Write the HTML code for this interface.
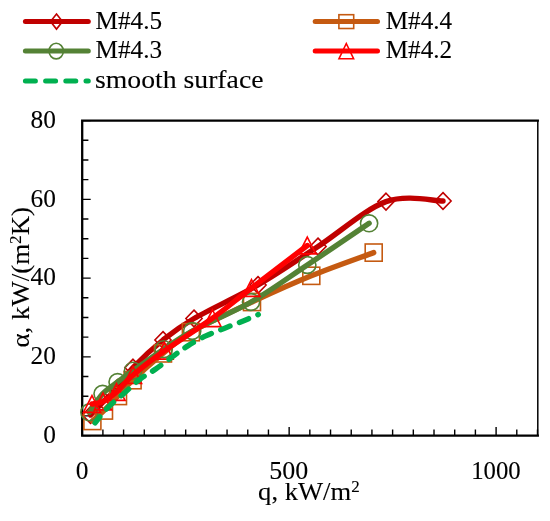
<!DOCTYPE html>
<html><head><meta charset="utf-8"><title>chart</title>
<style>html,body{margin:0;padding:0;background:#fff}svg{display:block}</style></head>
<body>
<svg width="550" height="521" viewBox="0 0 550 521" style="display:block">
<rect width="550" height="521" fill="#fff"/>
<path d="M82.2 435.60 h8.5 M82.2 415.91 h6.2 M82.2 396.23 h6.2 M82.2 376.54 h6.2 M82.2 356.85 h8.5 M82.2 337.16 h6.2 M82.2 317.48 h6.2 M82.2 297.79 h6.2 M82.2 278.10 h8.5 M82.2 258.41 h6.2 M82.2 238.73 h6.2 M82.2 219.04 h6.2 M82.2 199.35 h8.5 M82.2 179.66 h6.2 M82.2 159.98 h6.2 M82.2 140.29 h6.2 M82.2 120.60 h8.5 M82.20 435.6 v-8.5 M102.90 435.6 v-6.2 M123.59 435.6 v-6.2 M144.28 435.6 v-6.2 M164.98 435.6 v-6.2 M185.68 435.6 v-6.2 M206.37 435.6 v-6.2 M227.06 435.6 v-6.2 M247.76 435.6 v-6.2 M268.45 435.6 v-6.2 M289.15 435.6 v-8.5 M309.84 435.6 v-6.2 M330.54 435.6 v-6.2 M351.23 435.6 v-6.2 M371.93 435.6 v-6.2 M392.62 435.6 v-6.2 M413.32 435.6 v-6.2 M434.01 435.6 v-6.2 M454.71 435.6 v-6.2 M475.40 435.6 v-6.2 M496.10 435.6 v-8.5 M516.79 435.6 v-6.2 M537.49 435.6 v-6.2" stroke="#000" stroke-width="1.4" fill="none"/>
<path d="M82.2 120.6 H537.8 M82.2 120.6 V435.6 M82.2 435.6 H537.8" stroke="#000" stroke-width="2.3" fill="none" stroke-linecap="square"/>
<path d="M537.8 120.6 V435.6" stroke="#000" stroke-width="1.5" fill="none"/>
<path d="M90.5 415.0 C92.8 412.7 99.5 405.5 104.0 401.0 C108.5 396.5 112.7 393.6 117.5 388.0 C122.3 382.4 125.4 375.6 133.0 367.6 C140.6 359.6 152.8 348.2 163.0 340.0 C173.2 331.8 178.2 327.7 194.0 318.5 C209.8 309.3 237.3 297.0 258.0 285.0 C278.7 273.0 296.7 260.4 318.0 246.5 C339.3 232.6 365.2 209.2 386.0 201.6 C406.8 194.0 433.5 201.1 443.0 201.0" fill="none" stroke="#C00000" stroke-width="5.4" stroke-linecap="round" stroke-linejoin="round"/>
<path d="M90.5 406.6 L98.6 415.0 L90.5 423.4 L82.4 415.0Z" fill="none" stroke="#C00000" stroke-width="1.6"/>
<path d="M104.0 392.6 L112.1 401.0 L104.0 409.4 L95.9 401.0Z" fill="none" stroke="#C00000" stroke-width="1.6"/>
<path d="M117.5 379.6 L125.6 388.0 L117.5 396.4 L109.4 388.0Z" fill="none" stroke="#C00000" stroke-width="1.6"/>
<path d="M133.0 359.2 L141.1 367.6 L133.0 376.0 L124.9 367.6Z" fill="none" stroke="#C00000" stroke-width="1.6"/>
<path d="M163.0 331.6 L171.1 340.0 L163.0 348.4 L154.9 340.0Z" fill="none" stroke="#C00000" stroke-width="1.6"/>
<path d="M194.0 310.1 L202.1 318.5 L194.0 326.9 L185.9 318.5Z" fill="none" stroke="#C00000" stroke-width="1.6"/>
<path d="M258.0 276.6 L266.1 285.0 L258.0 293.4 L249.9 285.0Z" fill="none" stroke="#C00000" stroke-width="1.6"/>
<path d="M318.0 238.1 L326.1 246.5 L318.0 254.9 L309.9 246.5Z" fill="none" stroke="#C00000" stroke-width="1.6"/>
<path d="M386.0 193.2 L394.1 201.6 L386.0 210.0 L377.9 201.6Z" fill="none" stroke="#C00000" stroke-width="1.6"/>
<path d="M443.0 192.6 L451.1 201.0 L443.0 209.4 L434.9 201.0Z" fill="none" stroke="#C00000" stroke-width="1.6"/>
<path d="M92.4 421.0 C94.3 419.2 99.7 414.7 104.0 410.5 C108.3 406.3 113.2 401.1 118.0 396.0 C122.8 390.9 125.1 387.3 132.6 380.2 C140.1 373.1 153.3 361.4 163.0 353.4 C172.7 345.4 176.1 340.8 190.9 332.2 C205.7 323.6 231.9 311.4 252.0 302.0 C272.1 292.6 291.0 284.0 311.3 275.8 C331.6 267.6 363.3 256.5 373.7 252.6" fill="none" stroke="#C55A11" stroke-width="5.4" stroke-linecap="round" stroke-linejoin="round"/>
<rect x="83.9" y="412.4" width="17.0" height="17.2" fill="none" stroke="#C55A11" stroke-width="1.6"/>
<rect x="95.5" y="401.9" width="17.0" height="17.2" fill="none" stroke="#C55A11" stroke-width="1.6"/>
<rect x="109.5" y="387.4" width="17.0" height="17.2" fill="none" stroke="#C55A11" stroke-width="1.6"/>
<rect x="124.1" y="371.6" width="17.0" height="17.2" fill="none" stroke="#C55A11" stroke-width="1.6"/>
<rect x="154.5" y="344.8" width="17.0" height="17.2" fill="none" stroke="#C55A11" stroke-width="1.6"/>
<rect x="182.4" y="323.6" width="17.0" height="17.2" fill="none" stroke="#C55A11" stroke-width="1.6"/>
<rect x="243.5" y="293.4" width="17.0" height="17.2" fill="none" stroke="#C55A11" stroke-width="1.6"/>
<rect x="302.8" y="267.2" width="17.0" height="17.2" fill="none" stroke="#C55A11" stroke-width="1.6"/>
<rect x="365.2" y="244.0" width="17.0" height="17.2" fill="none" stroke="#C55A11" stroke-width="1.6"/>
<path d="M89.4 412.3 C91.6 409.2 97.9 398.9 102.6 393.8 C107.3 388.8 112.5 385.9 117.6 382.0 C122.7 378.1 125.3 376.2 133.0 370.7 C140.7 365.2 153.8 355.8 163.7 349.2 C173.6 342.6 177.6 338.9 192.2 331.0 C206.8 323.1 231.8 313.0 251.0 302.0 C270.2 291.0 287.6 278.1 307.3 265.0 C327.0 251.9 358.8 230.2 369.1 223.3" fill="none" stroke="#548235" stroke-width="5.4" stroke-linecap="round" stroke-linejoin="round"/>
<ellipse cx="89.4" cy="412.3" rx="8.6" ry="8.4" fill="none" stroke="#548235" stroke-width="1.6"/>
<ellipse cx="102.6" cy="393.8" rx="8.6" ry="8.4" fill="none" stroke="#548235" stroke-width="1.6"/>
<ellipse cx="117.6" cy="382.0" rx="8.6" ry="8.4" fill="none" stroke="#548235" stroke-width="1.6"/>
<ellipse cx="133.0" cy="370.7" rx="8.6" ry="8.4" fill="none" stroke="#548235" stroke-width="1.6"/>
<ellipse cx="163.7" cy="349.2" rx="8.6" ry="8.4" fill="none" stroke="#548235" stroke-width="1.6"/>
<ellipse cx="192.2" cy="331.0" rx="8.6" ry="8.4" fill="none" stroke="#548235" stroke-width="1.6"/>
<ellipse cx="251.0" cy="302.0" rx="8.6" ry="8.4" fill="none" stroke="#548235" stroke-width="1.6"/>
<ellipse cx="307.3" cy="265.0" rx="8.6" ry="8.4" fill="none" stroke="#548235" stroke-width="1.6"/>
<ellipse cx="369.1" cy="223.3" rx="8.6" ry="8.4" fill="none" stroke="#548235" stroke-width="1.6"/>
<path d="M92.0 404.0 C93.8 403.6 98.9 403.5 103.0 401.5 C107.1 399.5 111.5 396.4 116.5 392.0 C121.5 387.6 125.0 381.9 133.0 375.0 C141.0 368.1 151.2 360.2 164.5 350.7 C177.8 341.2 198.0 328.6 212.5 318.2 C227.0 307.8 235.7 300.1 251.5 288.0 C267.3 275.9 298.0 252.6 307.3 245.5" fill="none" stroke="#FF0000" stroke-width="5.4" stroke-linecap="round" stroke-linejoin="round"/>
<path d="M92.0 395.6 L100.6 412.4 L83.4 412.4Z" fill="none" stroke="#FF0000" stroke-width="1.6"/>
<path d="M103.0 393.1 L111.6 409.9 L94.4 409.9Z" fill="none" stroke="#FF0000" stroke-width="1.6"/>
<path d="M116.5 383.6 L125.1 400.4 L107.9 400.4Z" fill="none" stroke="#FF0000" stroke-width="1.6"/>
<path d="M133.0 366.6 L141.6 383.4 L124.4 383.4Z" fill="none" stroke="#FF0000" stroke-width="1.6"/>
<path d="M164.5 342.3 L173.1 359.1 L155.9 359.1Z" fill="none" stroke="#FF0000" stroke-width="1.6"/>
<path d="M212.5 309.8 L221.1 326.6 L203.9 326.6Z" fill="none" stroke="#FF0000" stroke-width="1.6"/>
<path d="M251.5 279.6 L260.1 296.4 L242.9 296.4Z" fill="none" stroke="#FF0000" stroke-width="1.6"/>
<path d="M307.3 237.1 L315.9 253.9 L298.7 253.9Z" fill="none" stroke="#FF0000" stroke-width="1.6"/>
<path d="M95.1 422.9 C97.3 420.2 103.7 411.8 108.4 407.0 C113.1 402.2 118.2 398.4 123.4 393.9 C128.6 389.3 134.1 383.7 139.6 379.5 C145.0 375.3 150.5 372.7 156.1 368.8 C161.7 364.9 167.7 360.2 173.0 356.3 C178.3 352.4 182.7 349.0 188.2 345.6 C193.6 342.2 199.8 338.8 205.8 335.9 C211.9 333.0 218.5 330.7 224.7 328.2 C230.9 325.7 237.6 323.2 243.2 320.9 C248.8 318.6 255.8 315.6 258.3 314.5" fill="none" stroke="#00B050" stroke-width="5.4" stroke-linecap="round" stroke-dasharray="10 10" stroke-dashoffset="2.2"/>
<g font-family="'Liberation Serif', serif" font-size="25" fill="#000" stroke="#000" stroke-width="0.1">
<path d="M25.4 21.6 H88.3" stroke="#C00000" stroke-width="5" stroke-linecap="round"/>
<path d="M56.5 14.1 L62.5 21.6 L56.5 29.1 L50.5 21.6Z" fill="none" stroke="#C00000" stroke-width="1.6"/>
<path d="M315.2 21.6 H377.5" stroke="#C55A11" stroke-width="5" stroke-linecap="round"/>
<rect x="338.9" y="14.7" width="14.8" height="13.8" fill="none" stroke="#C55A11" stroke-width="1.6"/>
<path d="M25.4 51.1 H88.3" stroke="#548235" stroke-width="5" stroke-linecap="round"/>
<ellipse cx="56.2" cy="51.1" rx="7.2" ry="7.8" fill="none" stroke="#548235" stroke-width="1.6"/>
<path d="M315.2 51.1 H377.5" stroke="#FF0000" stroke-width="5" stroke-linecap="round"/>
<path d="M346.3 43.5 L353.6 58.7 L339.0 58.7Z" fill="none" stroke="#FF0000" stroke-width="1.6"/>
<path d="M25.4 80.9 H88.3" stroke="#00B050" stroke-width="5" stroke-linecap="round" stroke-dasharray="10 10.2"/>
<text x="95.60" y="29.0" text-anchor="start" textLength="66.50" lengthAdjust="spacingAndGlyphs">M#4.5</text>
<text x="385.70" y="29.0" text-anchor="start" textLength="66.40" lengthAdjust="spacingAndGlyphs">M#4.4</text>
<text x="95.60" y="58.1" text-anchor="start" textLength="66.50" lengthAdjust="spacingAndGlyphs">M#4.3</text>
<text x="385.70" y="58.1" text-anchor="start" textLength="66.40" lengthAdjust="spacingAndGlyphs">M#4.2</text>
<text x="95.00" y="87.8" text-anchor="start" textLength="168.50" lengthAdjust="spacingAndGlyphs">smooth surface</text>
<text x="43.30" y="442.9" text-anchor="start" textLength="12.70" lengthAdjust="spacingAndGlyphs">0</text>
<text x="30.60" y="364.2" text-anchor="start" textLength="25.40" lengthAdjust="spacingAndGlyphs">20</text>
<text x="30.60" y="285.4" text-anchor="start" textLength="25.40" lengthAdjust="spacingAndGlyphs">40</text>
<text x="30.60" y="206.7" text-anchor="start" textLength="25.40" lengthAdjust="spacingAndGlyphs">60</text>
<text x="30.60" y="127.9" text-anchor="start" textLength="25.40" lengthAdjust="spacingAndGlyphs">80</text>
<text x="75.85" y="479.3" text-anchor="start" textLength="12.70" lengthAdjust="spacingAndGlyphs">0</text>
<text x="269.30" y="479.3" text-anchor="start" textLength="39.00" lengthAdjust="spacingAndGlyphs">500</text>
<text x="471.20" y="479.3" text-anchor="start" textLength="49.50" lengthAdjust="spacingAndGlyphs">1000</text>
<text x="258.10" y="499.6" text-anchor="start" textLength="101.60" lengthAdjust="spacingAndGlyphs">q, kW/m<tspan font-size="16" dy="-7.5">2</tspan></text>
<g transform="translate(28.5 347.5) rotate(-90)">
<text x="0.00" y="0.0" text-anchor="start" textLength="140.50" lengthAdjust="spacingAndGlyphs">α, kW/(m<tspan font-size="16" dy="-7.5">2</tspan><tspan dy="7.5">K)</tspan></text>
</g>
</g>
</svg>
</body></html>
